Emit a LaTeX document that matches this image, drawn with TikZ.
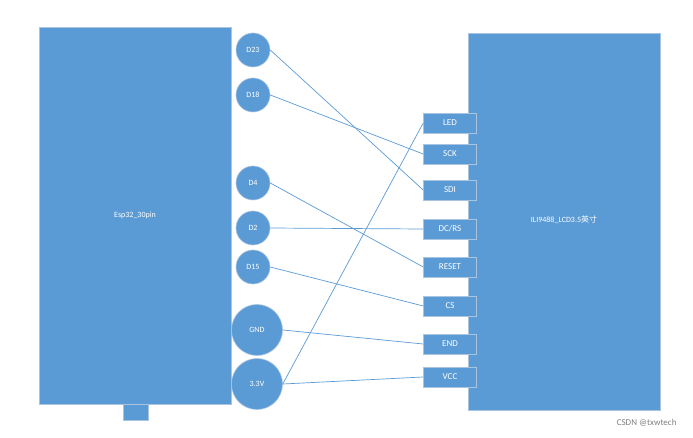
\documentclass[tikz,border=0pt]{standalone}
\usepackage{fontspec}
\setmainfont{Carlito}
\newfontfamily\cjk{Noto Sans CJK SC}
\definecolor{blu}{HTML}{5B9BD5}
\definecolor{edg}{HTML}{A9C4E0}
\begin{document}
\begin{tikzpicture}[x=1pt,y=-1pt,
  blk/.style={fill=blu,draw=edg,line width=0.8pt},
  pin/.style={circle,fill=blu,draw=edg,line width=0.6pt,text=white,font=\fontsize{8}{9}\selectfont,inner sep=0pt},
  box/.style={rectangle,fill=blu,draw=edg,line width=0.6pt,text=white,font=\fontsize{9}{10}\selectfont,minimum width=53pt,minimum height=20pt,inner sep=0pt},
  wire/.style={draw=blu,line width=0.7pt}]
\useasboundingbox (0,0) rectangle (693,438);
\fill[white] (0,0) rectangle (693,438);
\draw[blk] (123,400) rectangle (148,420);
\draw[blk] (39,27) rectangle (231,404);
\node[text=white,font=\fontsize{8}{9}\selectfont] (esp) at (135,215) {Esp32\_30pin};
\draw[blk] (468,33) rectangle (660,410);
\node[text=white,font=\fontsize{8}{9}\selectfont] (lcd) at (564,220) {ILI9488\_LCD3.5{\cjk 英寸}};
\node[pin,minimum size=34pt] (d23) at (253,50) {D23};
\node[pin,minimum size=34pt] (d18) at (253,95) {D18};
\node[pin,minimum size=34pt] (d4) at (253,183) {D4};
\node[pin,minimum size=34pt] (d2) at (253,228) {D2};
\node[pin,minimum size=34pt] (d15) at (253,267) {D15};
\node[pin,minimum size=51pt] (gnd) at (257,330) {GND};
\node[pin,minimum size=51pt] (v33) at (257,384) {3.3V};
\node[box] (led) at (450,123) {LED};
\node[box] (sck) at (450,154) {SCK};
\node[box] (sdi) at (450,190) {SDI};
\node[box] (dc) at (450,229) {DC/RS};
\node[box] (rst) at (450,267) {RESET};
\node[box] (cs) at (450,306) {CS};
\node[box] (en) at (450,344) {END};
\node[box] (vcc) at (450,377) {VCC};
\draw[wire] (d23.east) -- (sdi.west);
\draw[wire] (d18.east) -- (sck.west);
\draw[wire] (d4.east) -- (rst.west);
\draw[wire] (d2.east) -- (dc.west);
\draw[wire] (d15.east) -- (cs.west);
\draw[wire] (gnd.east) -- (en.west);
\draw[wire] (v33.east) -- (vcc.west);
\draw[wire] (v33.east) -- (led.west);
\node[text=gray,font=\fontsize{9}{10}\selectfont,anchor=east] (wm) at (680,423) {CSDN @txwtech};
\end{tikzpicture}
\end{document}
